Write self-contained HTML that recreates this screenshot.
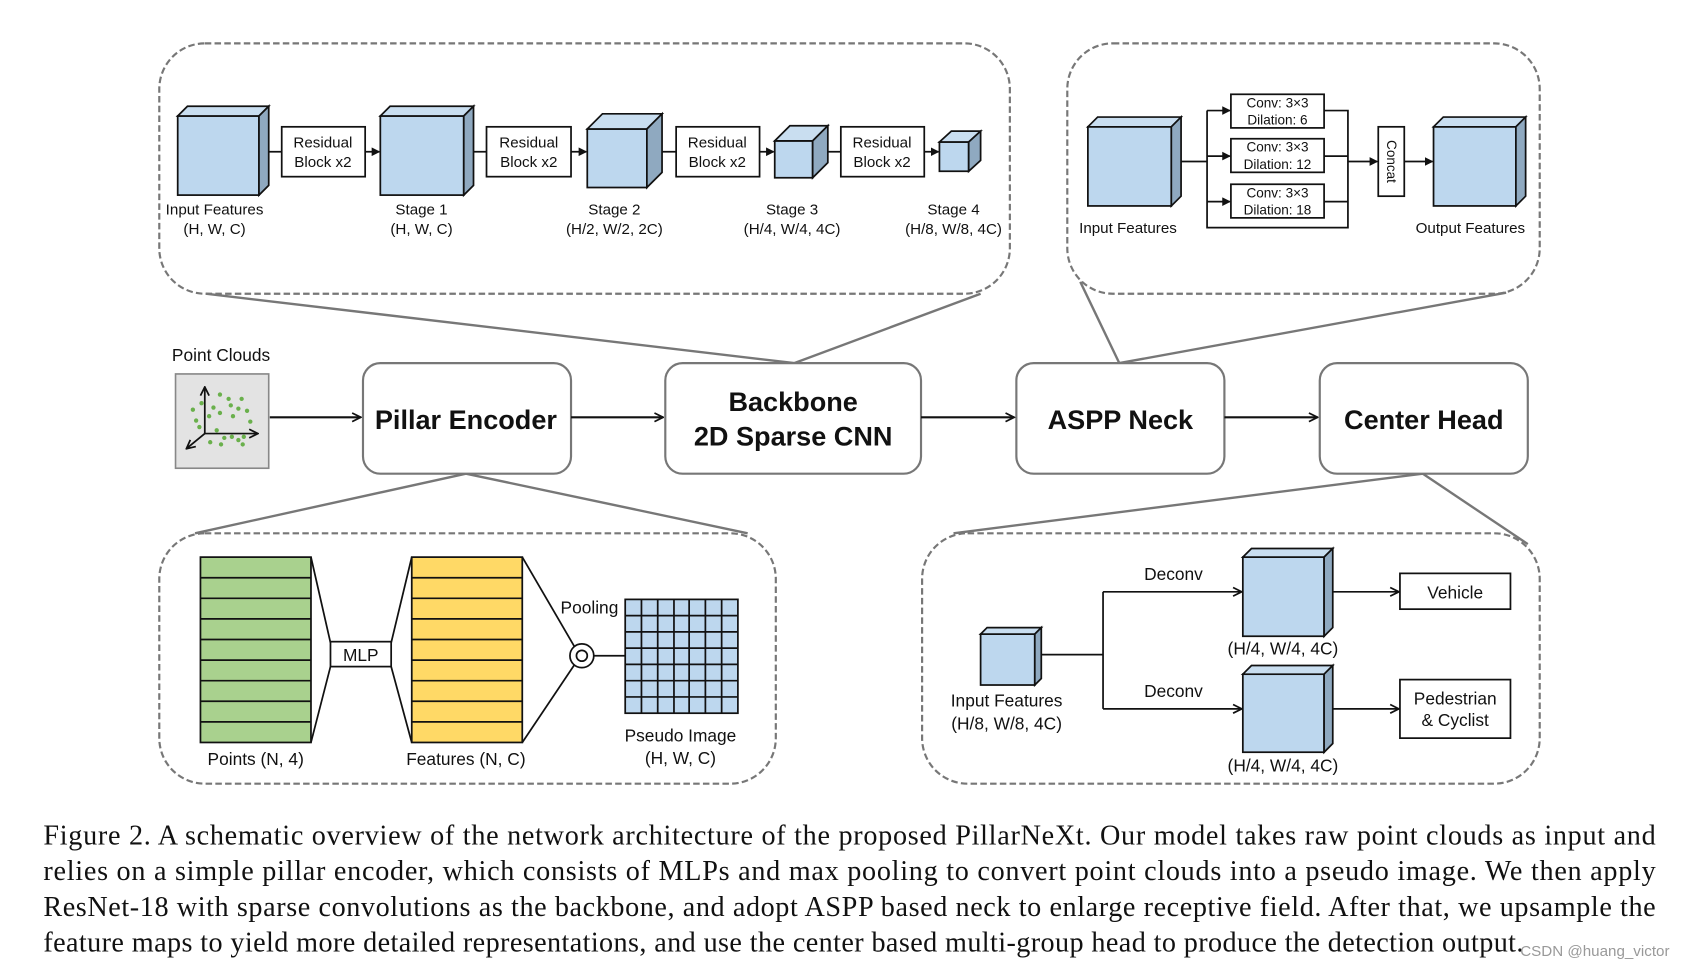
<!DOCTYPE html>
<html><head><meta charset="utf-8"><style>
html,body{margin:0;padding:0;background:#fff;}
svg{display:block;}
text{font-family:"Liberation Sans","DejaVu Sans",sans-serif;fill:#111;}
.cap{font-family:"Liberation Serif",serif;font-size:26px;}
</style></head><body>
<svg width="1699" height="969" viewBox="0 0 1568 894" preserveAspectRatio="none" xmlns="http://www.w3.org/2000/svg">
<defs>
<marker id="ar" markerWidth="10" markerHeight="10" refX="9" refY="5" orient="auto" markerUnits="userSpaceOnUse"><path d="M1,1 L9,5 L1,9" fill="none" stroke="#111" stroke-width="1.6"/></marker>
<marker id="as" markerWidth="8" markerHeight="8" refX="7" refY="4" orient="auto" markerUnits="userSpaceOnUse"><path d="M0,0 L8,4 L0,8 Z" fill="#111"/></marker>
</defs>
<rect width="1568" height="894" fill="#fff"/>
<g fill="none" stroke="#777" stroke-width="2" stroke-dasharray="6,3">
<rect x="147" y="40" width="785" height="231" rx="42"/>
<rect x="985" y="40" width="436" height="231" rx="42"/>
<rect x="147" y="492" width="569" height="231" rx="42"/>
<rect x="851" y="492" width="570" height="231" rx="42"/>
</g>
<g stroke="#777" stroke-width="2.2" fill="none">
<line x1="190" y1="271" x2="733" y2="335"/><line x1="905" y1="271" x2="733" y2="335"/>
<line x1="997" y1="260" x2="1033" y2="335"/><line x1="1390" y1="270" x2="1033" y2="335"/>
<line x1="430" y1="437" x2="180" y2="492"/><line x1="430" y1="437" x2="690" y2="492"/>
<line x1="1313" y1="437" x2="880" y2="492"/><line x1="1313" y1="437" x2="1410" y2="502"/>
</g>
<g fill="#fff" stroke="#777" stroke-width="2">
<rect x="335" y="335" width="192" height="102" rx="16"/>
<rect x="614" y="335" width="236" height="102" rx="16"/>
<rect x="938" y="335" width="192" height="102" rx="16"/>
<rect x="1218" y="335" width="192" height="102" rx="16"/>
</g>
<g font-weight="bold" font-size="25" text-anchor="middle">
<text x="430" y="396">Pillar Encoder</text>
<text x="732" y="379">Backbone</text>
<text x="732" y="411">2D Sparse CNN</text>
<text x="1034" y="396">ASPP Neck</text>
<text x="1314" y="396">Center Head</text>
</g>
<g stroke="#111" stroke-width="2" marker-end="url(#ar)">
<line x1="249" y1="385" x2="333" y2="385"/><line x1="527" y1="385" x2="612" y2="385"/>
<line x1="850" y1="385" x2="936" y2="385"/><line x1="1130" y1="385" x2="1216" y2="385"/>
</g>
<text x="204" y="333" font-size="16" text-anchor="middle">Point Clouds</text>
<rect x="162" y="345" width="86" height="87" fill="#e3e3e3" stroke="#888" stroke-width="1.5"/>
<g stroke="#111" stroke-width="1.6" marker-end="url(#ar)">
<line x1="189" y1="400" x2="189" y2="357"/><line x1="189" y1="400" x2="238" y2="400"/><line x1="189" y1="400" x2="172" y2="414"/>
</g>
<g fill="#6ab04c">
<circle cx="178" cy="378" r="2"/><circle cx="186" cy="372" r="2"/><circle cx="181" cy="388" r="2"/><circle cx="193" cy="384" r="2"/><circle cx="197" cy="376" r="2"/><circle cx="203" cy="381" r="2"/><circle cx="203" cy="364" r="2"/><circle cx="211" cy="368" r="2"/><circle cx="213" cy="374" r="2"/><circle cx="220" cy="377" r="2"/><circle cx="223" cy="368" r="2"/><circle cx="228" cy="379" r="2"/><circle cx="215" cy="384" r="2"/><circle cx="231" cy="389" r="2"/><circle cx="200" cy="397" r="2"/><circle cx="207" cy="404" r="2"/><circle cx="214" cy="403" r="2"/><circle cx="220" cy="406" r="2"/><circle cx="225" cy="403" r="2"/><circle cx="224" cy="410" r="2"/><circle cx="204" cy="410" r="2"/><circle cx="194" cy="408" r="2"/><circle cx="184" cy="394" r="2"/>
</g>
<g stroke="#111" stroke-width="1.6">
<g fill="#bdd7ee"><rect x="164" y="107" width="75" height="73"/><polygon points="164,107 173,98 248,98 239,107" fill="#c9def0"/><polygon points="239,107 248,98 248,171 239,180" fill="#8fa9c0"/></g>
<g fill="#bdd7ee"><rect x="351" y="107" width="77" height="73"/><polygon points="351,107 360,98 437,98 428,107" fill="#c9def0"/><polygon points="428,107 437,98 437,171 428,180" fill="#8fa9c0"/></g>
<g fill="#bdd7ee"><rect x="542" y="119" width="55" height="54"/><polygon points="542,119 556,105 611,105 597,119" fill="#c9def0"/><polygon points="597,119 611,105 611,159 597,173" fill="#8fa9c0"/></g>
<g fill="#bdd7ee"><rect x="715" y="130" width="35" height="34"/><polygon points="715,130 729,116 764,116 750,130" fill="#c9def0"/><polygon points="750,130 764,116 764,150 750,164" fill="#8fa9c0"/></g>
<g fill="#bdd7ee"><rect x="867" y="131" width="27" height="27"/><polygon points="867,131 878,121 905,121 894,131" fill="#c9def0"/><polygon points="894,131 905,121 905,148 894,158" fill="#8fa9c0"/></g>
<g fill="#fff"><rect x="260" y="117" width="77" height="46"/><rect x="449" y="117" width="78" height="46"/><rect x="624" y="117" width="77" height="46"/><rect x="776" y="117" width="77" height="46"/></g>
</g>
<g stroke="#111" stroke-width="1.6">
<line x1="248" y1="140" x2="260" y2="140"/><line x1="437" y1="140" x2="449" y2="140"/><line x1="611" y1="140" x2="624" y2="140"/><line x1="764" y1="140" x2="776" y2="140"/>
<g marker-end="url(#as)"><line x1="337" y1="140" x2="350" y2="140"/><line x1="527" y1="140" x2="541" y2="140"/><line x1="701" y1="140" x2="714" y2="140"/><line x1="853" y1="140" x2="866" y2="140"/></g>
</g>
<g font-size="14" text-anchor="middle">
<text x="298" y="136">Residual</text><text x="298" y="154">Block x2</text>
<text x="488" y="136">Residual</text><text x="488" y="154">Block x2</text>
<text x="662" y="136">Residual</text><text x="662" y="154">Block x2</text>
<text x="814" y="136">Residual</text><text x="814" y="154">Block x2</text>
<text x="198" y="198">Input Features</text><text x="198" y="216">(H, W, C)</text>
<text x="389" y="198">Stage 1</text><text x="389" y="216">(H, W, C)</text>
<text x="567" y="198">Stage 2</text><text x="567" y="216">(H/2, W/2, 2C)</text>
<text x="731" y="198">Stage 3</text><text x="731" y="216">(H/4, W/4, 4C)</text>
<text x="880" y="198">Stage 4</text><text x="880" y="216">(H/8, W/8, 4C)</text>
</g>
<g stroke="#111" stroke-width="1.6">
<g fill="#bdd7ee"><rect x="1004" y="117" width="77" height="73"/><polygon points="1004,117 1013,108 1090,108 1081,117" fill="#c9def0"/><polygon points="1081,117 1090,108 1090,181 1081,190" fill="#8fa9c0"/></g>
<g fill="#bdd7ee"><rect x="1323" y="117" width="76" height="73"/><polygon points="1323,117 1332,108 1408,108 1399,117" fill="#c9def0"/><polygon points="1399,117 1408,108 1408,181 1399,190" fill="#8fa9c0"/></g>
<g fill="#fff"><rect x="1136" y="87" width="86" height="31"/><rect x="1136" y="128" width="86" height="31"/><rect x="1136" y="170" width="86" height="31"/><rect x="1272" y="117" width="24" height="64"/></g>
<polyline points="1090,149 1114,149" fill="none"/>
<polyline points="1114,102 1114,210 1244,210 1244,102 1222,102" fill="none"/>
<line x1="1222" y1="144" x2="1244" y2="144"/><line x1="1222" y1="186" x2="1244" y2="186"/>
<g marker-end="url(#as)"><line x1="1114" y1="102" x2="1135" y2="102"/><line x1="1114" y1="144" x2="1135" y2="144"/><line x1="1114" y1="186" x2="1135" y2="186"/><line x1="1244" y1="149" x2="1271" y2="149"/><line x1="1296" y1="149" x2="1322" y2="149"/></g>
</g>
<g font-size="12.5" text-anchor="middle">
<text x="1179" y="99">Conv: 3×3</text><text x="1179" y="115">Dilation: 6</text>
<text x="1179" y="140">Conv: 3×3</text><text x="1179" y="156">Dilation: 12</text>
<text x="1179" y="182">Conv: 3×3</text><text x="1179" y="198">Dilation: 18</text>
<text x="1280" y="149" transform="rotate(90 1280 149)">Concat</text>
</g>
<g font-size="14" text-anchor="middle"><text x="1041" y="215">Input Features</text><text x="1357" y="215">Output Features</text></g>
<g stroke="#111" stroke-width="1.6">
<rect x="185" y="514" width="102" height="171" fill="#a9d18e"/>
<rect x="380" y="514" width="102" height="171" fill="#ffd966"/>
<g><line x1="185" y1="533" x2="287" y2="533"/><line x1="185" y1="552" x2="287" y2="552"/><line x1="185" y1="571" x2="287" y2="571"/><line x1="185" y1="590" x2="287" y2="590"/><line x1="185" y1="609" x2="287" y2="609"/><line x1="185" y1="628" x2="287" y2="628"/><line x1="185" y1="647" x2="287" y2="647"/><line x1="185" y1="666" x2="287" y2="666"/>
<line x1="380" y1="533" x2="482" y2="533"/><line x1="380" y1="552" x2="482" y2="552"/><line x1="380" y1="571" x2="482" y2="571"/><line x1="380" y1="590" x2="482" y2="590"/><line x1="380" y1="609" x2="482" y2="609"/><line x1="380" y1="628" x2="482" y2="628"/><line x1="380" y1="647" x2="482" y2="647"/><line x1="380" y1="666" x2="482" y2="666"/></g>
<line x1="287" y1="514" x2="305" y2="593"/><line x1="287" y1="685" x2="305" y2="615"/>
<line x1="361" y1="593" x2="380" y2="514"/><line x1="361" y1="615" x2="380" y2="685"/>
<line x1="482" y1="514" x2="531" y2="598"/><line x1="482" y1="685" x2="531" y2="612"/>
<rect x="305" y="592" width="56" height="23" fill="#fff"/>
<circle cx="537" cy="605" r="11" fill="#fff"/><circle cx="537" cy="605" r="5" fill="none"/>
<line x1="548" y1="605" x2="577" y2="605"/>
<rect x="577" y="553" width="104" height="105" fill="#bdd7ee"/>
<g><line x1="592" y1="553" x2="592" y2="658"/><line x1="607" y1="553" x2="607" y2="658"/><line x1="622" y1="553" x2="622" y2="658"/><line x1="636" y1="553" x2="636" y2="658"/><line x1="651" y1="553" x2="651" y2="658"/><line x1="666" y1="553" x2="666" y2="658"/>
<line x1="577" y1="568" x2="681" y2="568"/><line x1="577" y1="583" x2="681" y2="583"/><line x1="577" y1="598" x2="681" y2="598"/><line x1="577" y1="613" x2="681" y2="613"/><line x1="577" y1="628" x2="681" y2="628"/><line x1="577" y1="643" x2="681" y2="643"/></g>
</g>
<g font-size="16" text-anchor="middle">
<text x="333" y="610">MLP</text>
<text x="544" y="566">Pooling</text>
<text x="628" y="684">Pseudo Image</text><text x="628" y="705">(H, W, C)</text>
<text x="236" y="706">Points (N, 4)</text><text x="430" y="706">Features (N, C)</text>
</g>
<g stroke="#111" stroke-width="1.6">
<g fill="#bdd7ee"><rect x="905" y="585" width="50" height="47"/><polygon points="905,585 911,579 961,579 955,585" fill="#c9def0"/><polygon points="955,585 961,579 961,626 955,632" fill="#8fa9c0"/></g>
<g fill="#bdd7ee"><rect x="1147" y="514" width="75" height="73"/><polygon points="1147,514 1155,506 1230,506 1222,514" fill="#c9def0"/><polygon points="1222,514 1230,506 1230,579 1222,587" fill="#8fa9c0"/></g>
<g fill="#bdd7ee"><rect x="1147" y="622" width="75" height="72"/><polygon points="1147,622 1155,614 1230,614 1222,622" fill="#c9def0"/><polygon points="1222,622 1230,614 1230,686 1222,694" fill="#8fa9c0"/></g>
<rect x="1292" y="529" width="102" height="33" fill="#fff"/>
<rect x="1292" y="627" width="102" height="54" fill="#fff"/>
<line x1="961" y1="604" x2="1018" y2="604"/>
<polyline points="1018,546 1018,654" fill="none"/>
<g marker-end="url(#ar)"><line x1="1018" y1="546" x2="1146" y2="546"/><line x1="1018" y1="654" x2="1146" y2="654"/><line x1="1230" y1="546" x2="1291" y2="546"/><line x1="1230" y1="654" x2="1291" y2="654"/></g>
</g>
<g font-size="16" text-anchor="middle">
<text x="1083" y="535">Deconv</text><text x="1083" y="643">Deconv</text>
<text x="1184" y="604">(H/4, W/4, 4C)</text><text x="1184" y="712">(H/4, W/4, 4C)</text>
<text x="929" y="652">Input Features</text><text x="929" y="673">(H/8, W/8, 4C)</text>
<text x="1343" y="552">Vehicle</text>
<text x="1343" y="650">Pedestrian</text><text x="1343" y="670">&amp; Cyclist</text>
</g>
<text class="cap" x="40" y="779" textLength="1488" lengthAdjust="spacing">Figure 2.  A schematic overview of the network architecture of the proposed PillarNeXt.  Our model takes raw point clouds as input and</text>
<text class="cap" x="40" y="812" textLength="1488" lengthAdjust="spacing">relies on a simple pillar encoder, which consists of MLPs and max pooling to convert point clouds into a pseudo image.  We then apply</text>
<text class="cap" x="40" y="845" textLength="1488" lengthAdjust="spacing">ResNet-18 with sparse convolutions as the backbone, and adopt ASPP based neck to enlarge receptive field.  After that, we upsample the</text>
<text class="cap" x="40" y="878" textLength="1366" lengthAdjust="spacing">feature maps to yield more detailed representations, and use the center based multi-group head to produce the detection output.</text>
<text x="1403" y="882" font-size="14" style="fill:#999">CSDN @huang_victor</text>
</svg>
</body></html>
